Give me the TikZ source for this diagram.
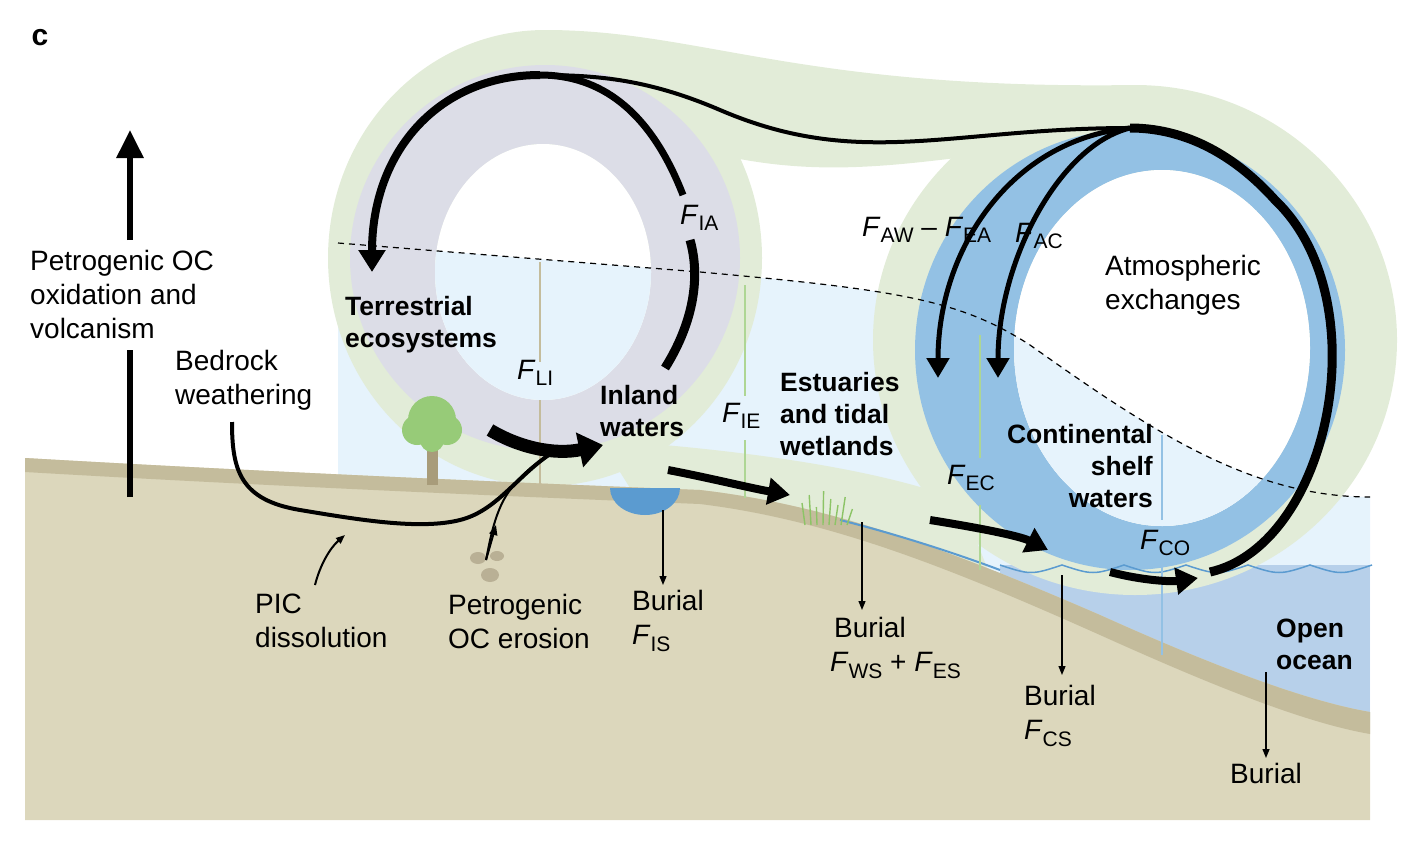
\documentclass[tikz,border=0pt]{standalone}
\usepackage{fontspec}
\setmainfont{Liberation Sans}
\usetikzlibrary{arrows.meta}
\definecolor{ground}{HTML}{DCD7BC}
\definecolor{groundtop}{HTML}{C4BC9C}
\definecolor{skyblue}{HTML}{E6F3FC}
\definecolor{bandgreen}{HTML}{E2ECD8}
\definecolor{lavender}{HTML}{DCDDE7}
\definecolor{ringblue}{HTML}{93C1E4}
\definecolor{ocean}{HTML}{B7D0EA}
\definecolor{pond}{HTML}{5B9BD0}
\definecolor{treegreen}{HTML}{97CB78}
\definecolor{grassgreen}{HTML}{8CC466}
\definecolor{trunk}{HTML}{A89C7A}
\newcommand\Fsub[1]{\textit{F}\raisebox{-0.45ex}{\fontsize{21}{21}\selectfont #1}}
\tikzset{
  txt/.style={font=\fontsize{28}{34}\selectfont, align=left, inner sep=0pt},
  bld/.style={txt, font=\fontsize{26.5}{32}\selectfont\bfseries},
  flux/.style={line width=8pt, -{Triangle[length=22pt,width=26pt]}},
  flow/.style={line width=4pt},
  thin arrow/.style={line width=1.3pt, -{Triangle[length=9pt,width=7pt]}},
  marker/.style={line width=1.2pt}
}
\begin{document}
\begin{tikzpicture}[x=1pt,y=-1pt]
\useasboundingbox (0,0) rectangle (1424,854);
% light blue water/air zone below the dashed line
\fill[skyblue] (338,243) -- (700,272) .. controls (900,290) and (960,300) .. (1030,345)
  .. controls (1150,430) and (1250,497) .. (1370,497) -- (1370,720) -- (338,720) -- cycle;
% ocean
\fill[ocean] (1000,565) -- (1370,565) -- (1370,720) -- (1000,720) -- cycle;
% green band
\begin{scope}[bandgreen]
\fill (545,258) ellipse [x radius=217, y radius=228];
\fill (1135,340) ellipse [x radius=262, y radius=255];
\fill (545,30) .. controls (700,30) and (800,90) .. (1135,85) -- (1135,140)
  .. controls (950,150) and (850,190) .. (700,150) -- cycle;
\fill (600,440) .. controls (750,450) and (880,470) .. (960,500) -- (1000,600) -- (700,600) -- cycle;
\end{scope}
% rings
\fill[lavender, even odd rule] (545,258) ellipse [x radius=195, y radius=193]
  (543,272) ellipse [x radius=108, y radius=128];
\fill[ringblue, even odd rule] (1130,350) ellipse [x radius=215, y radius=220]
  (1162,348) ellipse [x radius=148, y radius=178];
\fill[white] (543,272) ellipse [x radius=108, y radius=128];
\fill[white] (1162,348) ellipse [x radius=148, y radius=178];
\begin{scope}
\clip (338,243) -- (700,272) .. controls (900,290) and (960,300) .. (1030,345)
  .. controls (1150,430) and (1250,497) .. (1370,497) -- (1370,720) -- (338,720) -- cycle;
\fill[skyblue] (543,272) ellipse [x radius=108, y radius=128];
\fill[skyblue] (1162,348) ellipse [x radius=148, y radius=178];
\end{scope}
% dashed boundary
\draw[dashed, line width=1.2pt, dash pattern=on 6pt off 5pt] (338,243) -- (700,272)
  .. controls (900,290) and (960,300) .. (1030,345)
  .. controls (1150,430) and (1250,497) .. (1370,497);
% waves
\draw[pond, line width=1.5pt] (1000,565) \foreach \i in {0,...,5} {.. controls +(30,10) and +(-30,10) .. ++(62,0)};
% ground
\fill[ground] (25,458) .. controls (300,474) and (600,486) .. (700,490)
  .. controls (830,505) and (950,550) .. (1100,615)
  .. controls (1200,660) and (1300,700) .. (1370,712) -- (1370,820) -- (25,820) -- cycle;
\fill[groundtop] (25,458) .. controls (300,474) and (600,486) .. (700,490)
  .. controls (830,505) and (950,550) .. (1100,615)
  .. controls (1200,660) and (1300,700) .. (1370,712) -- (1370,734)
  .. controls (1300,722) and (1200,680) .. (1100,635)
  .. controls (950,568) and (830,520) .. (700,504)
  .. controls (600,500) and (300,488) .. (25,472) -- cycle;
\draw[pond, line width=2pt] (840,520) .. controls (900,535) and (960,555) .. (1000,570);
% pond
\fill[pond] (610,488) arc[start angle=180, end angle=0, x radius=35, y radius=27] -- cycle;
% tree
\fill[trunk] (427,440) rectangle (438,485);
\fill[treegreen] (432,420) circle[radius=24];
\fill[treegreen] (417,430) circle[radius=15];
\fill[treegreen] (447,430) circle[radius=15];
\fill[treegreen] (432,440) circle[radius=12];
% grass
\foreach \dx/\h in {0/22,6/30,12/18,18/34,24/26,30/20,36/28,42/16}
  \draw[grassgreen, line width=1.4pt] (805+\dx,525) -- ++(\dx/5-3,-\h);
% rocks
\fill[trunk!80] (478,558) ellipse[x radius=8, y radius=6];
\fill[trunk!80] (497,556) ellipse[x radius=7, y radius=5];
\fill[trunk!80] (490,575) ellipse[x radius=9, y radius=7];
% thin markers
\draw[marker, groundtop] (540,262) -- (540,362) (540,400) -- (540,488);
\draw[marker, grassgreen!70] (745,285) -- (745,396) (745,440) -- (745,498);
\draw[marker, grassgreen!70] (980,335) -- (980,458) (980,505) -- (980,570);
\draw[marker, ringblue] (1162,435) -- (1162,520) (1162,565) -- (1162,655);
% coordinates for the flux paths
\coordinate (topL) at (540,75);
\coordinate (topR) at (1130,128);
\coordinate (ringEnd) at (1210,572);
\coordinate (iaLow) at (665,368);
\coordinate (iaMid) at (690,240);
\coordinate (iaTop) at (683,195);
\coordinate (terr) at (372,272);
% fluxes
\draw[line width=9pt, line cap=butt] (ringEnd) .. controls (1330,545) and (1380,300) .. (1275,200)
  .. controls (1230,150) and (1180,128) .. (topR);
\draw[flow] (topR) .. controls (950,128) and (860,170) .. (720,110) .. controls (650,80) and (600,75) .. (topL);
\draw[line width=9pt] (iaLow) .. controls (695,320) and (700,275) .. (iaMid);
\draw[line width=7pt] (iaTop) .. controls (650,110) and (600,75) .. (topL);
\draw[flux] (topL) .. controls (440,75) and (372,150) .. (terr);
\draw[line width=5pt, -{Triangle[length=20pt,width=22pt]}] (topR) .. controls (1010,140) and (938,250) .. (938,378);
\draw[line width=5pt, -{Triangle[length=20pt,width=22pt]}] (topR) .. controls (1060,145) and (998,260) .. (998,378);
\coordinate (liA) at (490,430);
\coordinate (liB) at (603,445);
\draw[line width=13pt, -{Triangle[length=24pt,width=34pt]}] (liA) .. controls (520,448) and (555,455) .. (liB);
\coordinate (ieA) at (668,470);
\coordinate (ieB) at (790,495);
\draw[flux] (ieA) .. controls (710,478) and (750,488) .. (ieB);
\coordinate (ecA) at (930,520);
\coordinate (ecB) at (1048,550);
\draw[flux] (ecA) .. controls (980,528) and (1020,536) .. (ecB);
\coordinate (coA) at (1110,572);
\coordinate (coB) at (1198,578);
\draw[flux] (coA) .. controls (1140,580) and (1170,582) .. (coB);
% weathering inputs
\coordinate (wx) at (232,422);
\coordinate (merge) at (560,448);
\draw[flow] (wx) .. controls (232,470) and (240,500) .. (300,510)
  .. controls (360,520) and (420,530) .. (460,520) .. controls (500,510) and (520,470) .. (merge);
\draw[thin arrow, line width=2pt] (315,585) .. controls (320,565) and (330,548) .. (345,535);
\draw[line width=2pt] (486,560) .. controls (490,540) and (495,510) .. (510,490) .. controls (525,470) and (540,460) .. (merge);
\draw[-{Triangle[length=10pt,width=8pt]}, line width=2pt] (486,560) -- (496,525);
% petrogenic arrow
\coordinate (vb) at (130,497);
\coordinate (vt) at (130,130);
\draw[line width=6pt] (vb) -- (130,350);
\draw[line width=6pt, -{Triangle[length=28pt,width=26pt]}] (130,240) -- (vt);
% burial
\draw[thin arrow] (663,510) -- (663,585);
\draw[thin arrow] (862,522) -- (862,610);
\draw[thin arrow] (1062,575) -- (1062,675);
\draw[thin arrow] (1266,672) -- (1266,758);
% texts
\node[font=\fontsize{30}{30}\selectfont\bfseries, anchor=west] (c) at (28,38) {c};
\node[txt, anchor=west] (petro) at (30,294) {Petrogenic OC\\oxidation and\\volcanism};
\node[txt, anchor=west] (bedrock) at (175,380) {Bedrock\\weathering};
\node[bld, anchor=west] (terrL) at (345,325) {Terrestrial\\ecosystems};
\node[bld, anchor=west] (inland) at (600,411) {Inland\\waters};
\node[bld, anchor=west] (estu) at (780,414) {Estuaries\\and tidal\\wetlands};
\node[bld, anchor=east, align=right] (shelf) at (1153,466) {Continental\\shelf\\waters};
\node[txt, anchor=west] (atm) at (1105,285) {Atmospheric\\exchanges};
\node[bld, anchor=west] (open) at (1276,644) {Open\\ocean};
\node[txt, anchor=west] (pic) at (255,621) {PIC\\dissolution};
\node[txt, anchor=west] (poc) at (448,621) {Petrogenic\\OC erosion};
\node[txt, anchor=west] (bIS) at (632,621) {Burial\\\Fsub{IS}};
\node[txt, anchor=west] (bWS) at (830,648) {\hspace*{4pt}Burial\\\Fsub{WS} + \Fsub{ES}};
\node[txt, anchor=west] (bCS) at (1024,716) {Burial\\\Fsub{CS}};
\node[txt, anchor=west] (bO) at (1230,773) {Burial};
\node[txt, anchor=west] (fIA) at (680,218) {\Fsub{IA}};
\node[txt, anchor=west] (fLI) at (517,373) {\Fsub{LI}};
\node[txt, anchor=west] (fIE) at (722,416) {\Fsub{IE}};
\node[txt, anchor=west] (fAW) at (862,230) {\Fsub{AW} -- \Fsub{EA}};
\node[txt, anchor=west] (fAC) at (1015,236) {\Fsub{AC}};
\node[txt, anchor=west] (fEC) at (947,478) {\Fsub{EC}};
\node[txt, anchor=west] (fCO) at (1140,543) {\Fsub{CO}};
\end{tikzpicture}
\end{document}
